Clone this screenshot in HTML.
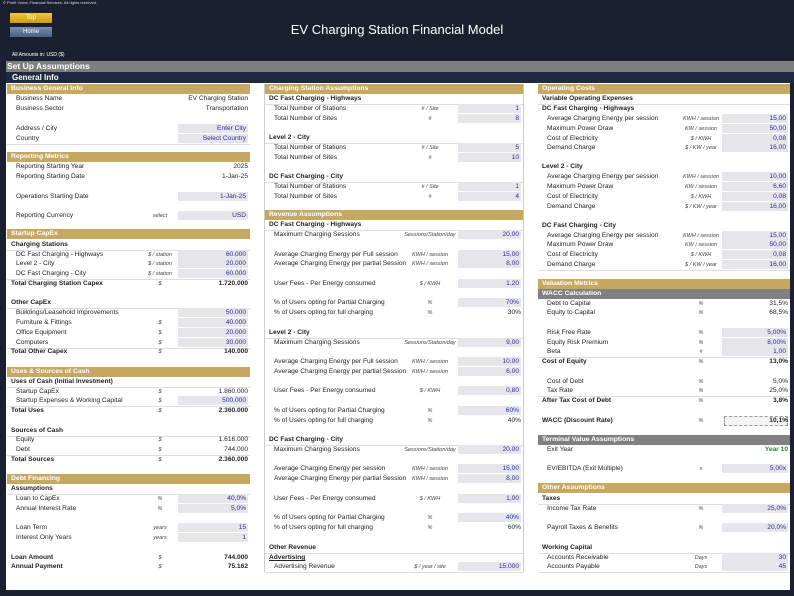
<!DOCTYPE html>
<html><head><meta charset="utf-8"><style>
body{margin:0;width:794px;height:596px;background:#1b2030;position:relative;overflow:hidden;font-family:"Liberation Sans",sans-serif;font-size:6.6px;color:#222}
.abs{position:absolute}
.col{position:absolute;top:0;height:596px}
.r{position:absolute;left:0;right:0;height:10px;line-height:10px;white-space:nowrap}
.l{position:absolute;left:9px}
.b .l{left:4px;font-weight:bold}
.u{position:absolute;font-style:italic;color:#444;font-size:5.5px;text-align:center;width:90px}
.v{position:absolute;right:2px;text-align:right}
.in{background:#e6e6ea;color:#2a2a9a;padding-right:2px;border-bottom:1px solid #fff;box-sizing:border-box;height:10px}
.h{position:absolute;left:0;right:0;height:10px;line-height:10px;background:#c7a861;color:#fff;font-weight:bold;padding-left:4px;font-size:6.8px}
.g{background:#808080}
.line{border-bottom:1px solid #ddd}
</style></head><body>
<div class="abs" style="left:3px;top:0;color:#ddd;font-size:4px">© Profit Vision Financial Services. All rights reserved.</div>
<div class="abs" style="left:10px;top:13px;width:42px;height:10px;background:linear-gradient(#f0c840,#c99a10);color:#fff;font-size:6px;text-align:center;line-height:10px">Top</div>
<div class="abs" style="left:10px;top:27px;width:42px;height:10px;background:linear-gradient(#7c8fb0,#4a5f86);color:#fff;font-size:6px;text-align:center;line-height:10px">Home</div>
<div class="abs" style="left:0;width:794px;top:22px;text-align:center;color:#fff;font-size:13px">EV Charging Station Financial Model</div>
<div class="abs" style="left:12px;top:52px;color:#fff;font-size:5px">All Amounts in: USD ($)</div>
<div class="abs" style="left:6px;width:788px;top:61px;height:11px;background:#7f7f7f;color:#fff;font-weight:bold;font-size:8.5px;line-height:11px;padding-left:1px">Set Up Assumptions</div>
<div class="abs" style="left:6px;width:788px;top:72px;height:11px;background:#1d2a40;color:#fff;font-weight:bold;font-size:8px;line-height:11px;padding-left:6px">General Info</div>
<div class="abs" style="left:6px;width:784px;top:83px;height:507px;background:#fff"></div>
<div class="abs" style="left:264px;top:84px;height:488px;border-left:1px solid #ccc"></div>
<div class="abs" style="left:523px;top:84px;height:488px;border-left:1px solid #ccc"></div>

<!-- LEFT -->
<div class="col" style="left:7px;width:243px">
<div class="h" style="top:84px">Business General Info</div>
<div class="r" style="top:94px"><span class="l">Business Name</span><span class="v">EV Charging Station</span></div>
<div class="r" style="top:104px"><span class="l">Business Sector</span><span class="v">Transportation</span></div>
<div class="r" style="top:124px"><span class="l">Address / City</span><span class="v in" style="width:70px">Enter City</span></div>
<div class="r line" style="top:134px"><span class="l">Country</span><span class="v in" style="width:70px">Select Country</span></div>
<div class="h" style="top:152px">Reporting Metrics</div>
<div class="r" style="top:162px"><span class="l">Reporting Starting Year</span><span class="v">2025</span></div>
<div class="r" style="top:172px"><span class="l">Reporting Starting Date</span><span class="v">1-Jan-25</span></div>
<div class="r" style="top:192px"><span class="l">Operations Starting Date</span><span class="v in" style="width:70px">1-Jan-25</span></div>
<div class="r" style="top:211px"><span class="l">Reporting Currency</span><span class="u" style="left:108px">select</span><span class="v in" style="width:70px">USD</span></div>
<div class="h" style="top:229px">Startup CapEx</div>
<div class="r b line" style="top:240px"><span class="l">Charging Stations</span></div>
<div class="r" style="top:250px"><span class="l">DC Fast Charging - Highways</span><span class="u" style="left:108px">$ / station</span><span class="v in" style="width:70px">60.000</span></div>
<div class="r" style="top:259px"><span class="l">Level 2 - City</span><span class="u" style="left:108px">$ / station</span><span class="v in" style="width:70px">20.000</span></div>
<div class="r line" style="top:269px"><span class="l">DC Fast Charging - City</span><span class="u" style="left:108px">$ / station</span><span class="v in" style="width:70px">60.000</span></div>
<div class="r b" style="top:279px"><span class="l">Total Charging Station Capex</span><span class="u" style="left:108px">$</span><span class="v" style="font-weight:bold">1.720.000</span></div>
<div class="r b line" style="top:298px"><span class="l">Other CapEx</span></div>
<div class="r" style="top:308px"><span class="l">Buildings/Leasehold Improvements</span><span class="v in" style="width:70px">50.000</span></div>
<div class="r" style="top:318px"><span class="l">Furniture &amp; Fittings</span><span class="u" style="left:108px">$</span><span class="v in" style="width:70px">40.000</span></div>
<div class="r" style="top:328px"><span class="l">Office Equipment</span><span class="u" style="left:108px">$</span><span class="v in" style="width:70px">20.000</span></div>
<div class="r line" style="top:338px"><span class="l">Computers</span><span class="u" style="left:108px">$</span><span class="v in" style="width:70px">30.000</span></div>
<div class="r b" style="top:347px"><span class="l">Total Other Capex</span><span class="u" style="left:108px">$</span><span class="v" style="font-weight:bold">140.000</span></div>
<div class="h" style="top:367px">Uses &amp; Sources of Cash</div>
<div class="r b line" style="top:377px"><span class="l">Uses of Cash (Initial Investment)</span></div>
<div class="r" style="top:387px"><span class="l">Startup CapEx</span><span class="u" style="left:108px">$</span><span class="v">1.860.000</span></div>
<div class="r line" style="top:396px"><span class="l">Startup Expenses &amp; Working Capital</span><span class="u" style="left:108px">$</span><span class="v in" style="width:70px">500.000</span></div>
<div class="r b" style="top:406px"><span class="l">Total Uses</span><span class="u" style="left:108px">$</span><span class="v" style="font-weight:bold">2.360.000</span></div>
<div class="r b line" style="top:426px"><span class="l">Sources of Cash</span></div>
<div class="r" style="top:435px"><span class="l">Equity</span><span class="u" style="left:108px">$</span><span class="v">1.616.000</span></div>
<div class="r line" style="top:445px"><span class="l">Debt</span><span class="u" style="left:108px">$</span><span class="v">744.000</span></div>
<div class="r b" style="top:455px"><span class="l">Total Sources</span><span class="u" style="left:108px">$</span><span class="v" style="font-weight:bold">2.360.000</span></div>
<div class="h" style="top:474px">Debt Financing</div>
<div class="r b line" style="top:484px"><span class="l">Assumptions</span></div>
<div class="r" style="top:494px"><span class="l">Loan to CapEx</span><span class="u" style="left:108px">%</span><span class="v in" style="width:70px">40,0%</span></div>
<div class="r" style="top:504px"><span class="l">Annual Interest Rate</span><span class="u" style="left:108px">%</span><span class="v in" style="width:70px">5,0%</span></div>
<div class="r" style="top:523px"><span class="l">Loan Term</span><span class="u" style="left:108px">years</span><span class="v in" style="width:70px">15</span></div>
<div class="r" style="top:533px"><span class="l">Interest Only Years</span><span class="u" style="left:108px">years</span><span class="v in" style="width:70px">1</span></div>
<div class="r b" style="top:553px"><span class="l">Loan Amount</span><span class="u" style="left:108px">$</span><span class="v" style="font-weight:bold">744.000</span></div>
<div class="r b" style="top:562px"><span class="l">Annual Payment</span><span class="u" style="left:108px">$</span><span class="v" style="font-weight:bold">75.162</span></div>
</div>

<!-- MIDDLE -->
<div class="col" style="left:265px;width:258px">
<div class="h" style="top:84px">Charging Station Assumptions</div>
<div class="r b line" style="top:94px"><span class="l">DC Fast Charging - Highways</span></div>
<div class="r" style="top:104px"><span class="l">Total Number of Stations</span><span class="u" style="left:120px"># / Site</span><span class="v in" style="width:63px">1</span></div>
<div class="r" style="top:114px"><span class="l">Total Number of Sites</span><span class="u" style="left:120px">#</span><span class="v in" style="width:63px">8</span></div>
<div class="r b line" style="top:133px"><span class="l">Level 2 - City</span></div>
<div class="r" style="top:143px"><span class="l">Total Number of Stations</span><span class="u" style="left:120px"># / Site</span><span class="v in" style="width:63px">5</span></div>
<div class="r" style="top:153px"><span class="l">Total Number of Sites</span><span class="u" style="left:120px">#</span><span class="v in" style="width:63px">10</span></div>
<div class="r b line" style="top:172px"><span class="l">DC Fast Charging - City</span></div>
<div class="r" style="top:182px"><span class="l">Total Number of Stations</span><span class="u" style="left:120px"># / Site</span><span class="v in" style="width:63px">1</span></div>
<div class="r" style="top:192px"><span class="l">Total Number of Sites</span><span class="u" style="left:120px">#</span><span class="v in" style="width:63px">4</span></div>
<div class="h" style="top:210px">Revenue Assumptions</div>
<div class="r b line" style="top:220px"><span class="l">DC Fast Charging - Highways</span></div>
<div class="r" style="top:230px"><span class="l">Maximum Charging Sessions</span><span class="u" style="left:120px">Sessions/Station/day</span><span class="v in" style="width:63px">20,00</span></div>
<div class="r" style="top:250px"><span class="l">Average Charging Energy per Full session</span><span class="u" style="left:120px">KWH / session</span><span class="v in" style="width:63px">15,00</span></div>
<div class="r" style="top:259px"><span class="l">Average Charging Energy per partial Session</span><span class="u" style="left:120px">KWH / session</span><span class="v in" style="width:63px">8,00</span></div>
<div class="r" style="top:279px"><span class="l">User Fees - Per Energy consumed</span><span class="u" style="left:120px">$ / KWH</span><span class="v in" style="width:63px">1,20</span></div>
<div class="r" style="top:298px"><span class="l">% of Users opting for Partial Charging</span><span class="u" style="left:120px">%</span><span class="v in" style="width:63px">70%</span></div>
<div class="r" style="top:308px"><span class="l">% of Users opting for full charging</span><span class="u" style="left:120px">%</span><span class="v">30%</span></div>
<div class="r b line" style="top:328px"><span class="l">Level 2 - City</span></div>
<div class="r" style="top:338px"><span class="l">Maximum Charging Sessions</span><span class="u" style="left:120px">Sessions/Station/day</span><span class="v in" style="width:63px">9,00</span></div>
<div class="r" style="top:357px"><span class="l">Average Charging Energy per Full session</span><span class="u" style="left:120px">KWH / session</span><span class="v in" style="width:63px">10,00</span></div>
<div class="r" style="top:367px"><span class="l">Average Charging Energy per partial Session</span><span class="u" style="left:120px">KWH / session</span><span class="v in" style="width:63px">6,00</span></div>
<div class="r" style="top:386px"><span class="l">User Fees - Per Energy consumed</span><span class="u" style="left:120px">$ / KWH</span><span class="v in" style="width:63px">0,80</span></div>
<div class="r" style="top:406px"><span class="l">% of Users opting for Partial Charging</span><span class="u" style="left:120px">%</span><span class="v in" style="width:63px">60%</span></div>
<div class="r" style="top:416px"><span class="l">% of Users opting for full charging</span><span class="u" style="left:120px">%</span><span class="v">40%</span></div>
<div class="r b line" style="top:435px"><span class="l">DC Fast Charging - City</span></div>
<div class="r" style="top:445px"><span class="l">Maximum Charging Sessions</span><span class="u" style="left:120px">Sessions/Station/day</span><span class="v in" style="width:63px">20,00</span></div>
<div class="r" style="top:464px"><span class="l">Average Charging Energy per session</span><span class="u" style="left:120px">KWH / session</span><span class="v in" style="width:63px">15,00</span></div>
<div class="r" style="top:474px"><span class="l">Average Charging Energy per partial Session</span><span class="u" style="left:120px">KWH / session</span><span class="v in" style="width:63px">8,00</span></div>
<div class="r" style="top:494px"><span class="l">User Fees - Per Energy consumed</span><span class="u" style="left:120px">$ / KWH</span><span class="v in" style="width:63px">1,00</span></div>
<div class="r" style="top:513px"><span class="l">% of Users opting for Partial Charging</span><span class="u" style="left:120px">%</span><span class="v in" style="width:63px">40%</span></div>
<div class="r" style="top:523px"><span class="l">% of Users opting for full charging</span><span class="u" style="left:120px">%</span><span class="v">60%</span></div>
<div class="r b line" style="top:543px"><span class="l">Other Revenue</span></div>
<div class="r b" style="top:553px"><span class="l" style="text-decoration:underline">Advertising</span></div>
<div class="r line" style="top:562px"><span class="l">Advertising Revenue</span><span class="u" style="left:120px">$ / year / site</span><span class="v in" style="width:63px">15.000</span></div>
</div>

<!-- RIGHT -->
<div class="col" style="left:538px;width:252px">
<div class="h" style="top:84px">Operating Costs</div>
<div class="r b line" style="top:94px"><span class="l">Variable Operating Expenses</span></div>
<div class="r b" style="top:104px"><span class="l">DC Fast Charging - Highways</span></div>
<div class="r" style="top:114px"><span class="l">Average Charging Energy per session</span><span class="u" style="left:118px">KWH / session</span><span class="v in" style="width:66px">15,00</span></div>
<div class="r" style="top:124px"><span class="l">Maximum Power Draw</span><span class="u" style="left:118px">KW / session</span><span class="v in" style="width:66px">50,00</span></div>
<div class="r" style="top:134px"><span class="l">Cost of Electricity</span><span class="u" style="left:118px">$ / KWH</span><span class="v in" style="width:66px">0,08</span></div>
<div class="r" style="top:143px"><span class="l">Demand Charge</span><span class="u" style="left:118px">$ / KW / year</span><span class="v in" style="width:66px">16,00</span></div>
<div class="r b" style="top:162px"><span class="l">Level 2 - City</span></div>
<div class="r" style="top:172px"><span class="l">Average Charging Energy per session</span><span class="u" style="left:118px">KWH / session</span><span class="v in" style="width:66px">10,00</span></div>
<div class="r" style="top:182px"><span class="l">Maximum Power Draw</span><span class="u" style="left:118px">KW / session</span><span class="v in" style="width:66px">6,60</span></div>
<div class="r" style="top:192px"><span class="l">Cost of Electricity</span><span class="u" style="left:118px">$ / KWH</span><span class="v in" style="width:66px">0,08</span></div>
<div class="r" style="top:202px"><span class="l">Demand Charge</span><span class="u" style="left:118px">$ / KW / year</span><span class="v in" style="width:66px">16,00</span></div>
<div class="r b" style="top:221px"><span class="l">DC Fast Charging - City</span></div>
<div class="r" style="top:231px"><span class="l">Average Charging Energy per session</span><span class="u" style="left:118px">KWH / session</span><span class="v in" style="width:66px">15,00</span></div>
<div class="r" style="top:240px"><span class="l">Maximum Power Draw</span><span class="u" style="left:118px">KW / session</span><span class="v in" style="width:66px">50,00</span></div>
<div class="r" style="top:250px"><span class="l">Cost of Electricity</span><span class="u" style="left:118px">$ / KWH</span><span class="v in" style="width:66px">0,08</span></div>
<div class="r line" style="top:260px"><span class="l">Demand Charge</span><span class="u" style="left:118px">$ / KW / year</span><span class="v in" style="width:66px">16,00</span></div>
<div class="h" style="top:279px">Valuation Metrics</div>
<div class="h g" style="top:289px">WACC Calculation</div>
<div class="r" style="top:299px"><span class="l">Debt to Capital</span><span class="u" style="left:118px">%</span><span class="v">31,5%</span></div>
<div class="r" style="top:308px"><span class="l">Equity to Capital</span><span class="u" style="left:118px">%</span><span class="v">68,5%</span></div>
<div class="r" style="top:328px"><span class="l">Risk Free Rate</span><span class="u" style="left:118px">%</span><span class="v in" style="width:66px">5,00%</span></div>
<div class="r" style="top:338px"><span class="l">Equity Risk Premium</span><span class="u" style="left:118px">%</span><span class="v in" style="width:66px">8,00%</span></div>
<div class="r line" style="top:347px"><span class="l">Beta</span><span class="u" style="left:118px">#</span><span class="v in" style="width:66px">1,00</span></div>
<div class="r b" style="top:357px"><span class="l">Cost of Equity</span><span class="u" style="left:118px">%</span><span class="v" style="font-weight:bold">13,0%</span></div>
<div class="r" style="top:377px"><span class="l">Cost of Debt</span><span class="u" style="left:118px">%</span><span class="v">5,0%</span></div>
<div class="r line" style="top:386px"><span class="l">Tax Rate</span><span class="u" style="left:118px">%</span><span class="v">25,0%</span></div>
<div class="r b" style="top:396px"><span class="l">After Tax Cost of Debt</span><span class="u" style="left:118px">%</span><span class="v" style="font-weight:bold">3,8%</span></div>
<div class="abs" style="left:186px;top:416px;width:64px;height:10px;border:1px dashed #999;box-sizing:border-box;background:#f4f4f4"></div>
<div class="r b" style="top:416px"><span class="l">WACC (Discount Rate)</span><span class="u" style="left:118px">%</span><span class="v" style="font-weight:bold">10,1%</span></div>
<div class="h g" style="top:435px">Terminal Value Assumptions</div>
<div class="r" style="top:445px"><span class="l">Exit Year</span><span class="v" style="color:#1a8a2a;font-weight:bold">Year 10</span></div>
<div class="r" style="top:464px"><span class="l">EV/EBITDA (Exit Multiple)</span><span class="u" style="left:118px">x</span><span class="v in" style="width:66px">5,00x</span></div>
<div class="h" style="top:483px">Other Assumptions</div>
<div class="r b line" style="top:494px"><span class="l">Taxes</span></div>
<div class="r" style="top:504px"><span class="l">Income Tax Rate</span><span class="u" style="left:118px">%</span><span class="v in" style="width:66px">25,0%</span></div>
<div class="r" style="top:523px"><span class="l">Payroll Taxes &amp; Benefits</span><span class="u" style="left:118px">%</span><span class="v in" style="width:66px">20,0%</span></div>
<div class="r b line" style="top:543px"><span class="l">Working Capital</span></div>
<div class="r" style="top:553px"><span class="l">Accounts Receivable</span><span class="u" style="left:118px">Days</span><span class="v in" style="width:66px">30</span></div>
<div class="r line" style="top:562px"><span class="l">Accounts Payable</span><span class="u" style="left:118px">Days</span><span class="v in" style="width:66px">45</span></div>
</div>
</body></html>
